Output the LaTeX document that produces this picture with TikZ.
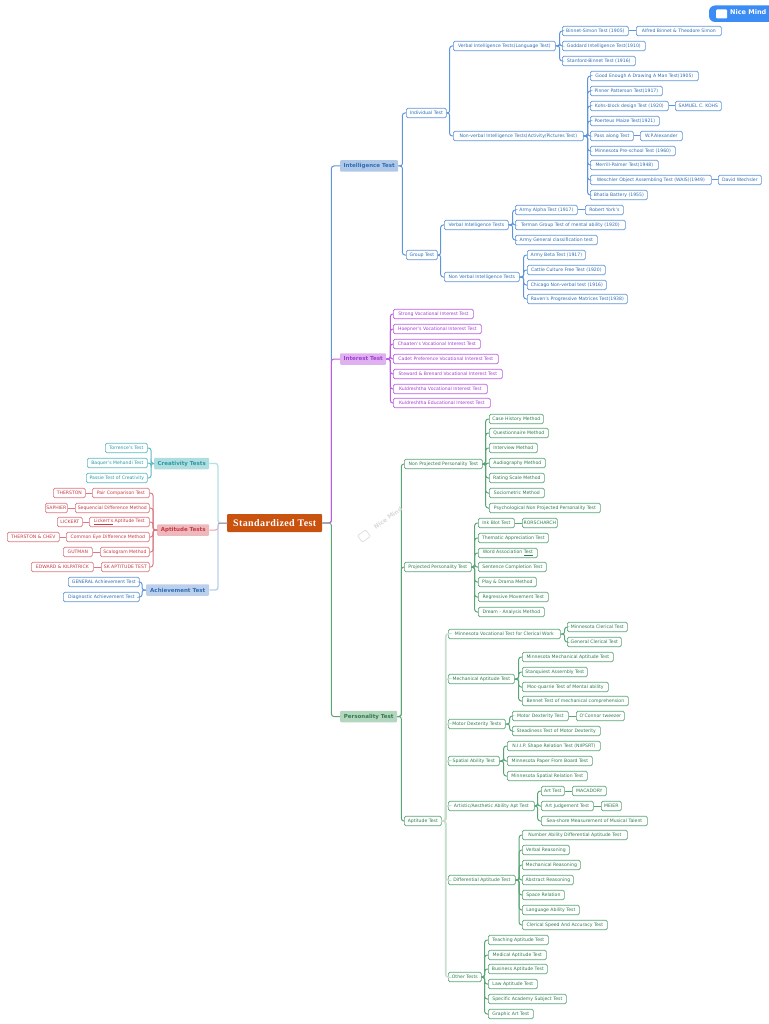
\documentclass[tikz,border=0pt]{standalone}
\usepackage{fontspec}
\setmainfont{DejaVu Sans}
\newfontfamily\rootfont[LetterSpace=4]{Liberation Serif}
\usetikzlibrary{calc}
\definecolor{treeblue}{HTML}{5F95DA}
\definecolor{inkblue}{HTML}{2F6DB5}
\definecolor{fillblue}{HTML}{AFC8E8}
\definecolor{treepurple}{HTML}{BE5CE2}
\definecolor{inkpurple}{HTML}{A63CD6}
\definecolor{fillpurple}{HTML}{DDB2EE}
\definecolor{treegreen}{HTML}{5AA576}
\definecolor{inkgreen}{HTML}{2E7D4F}
\definecolor{fillgreen}{HTML}{B5D6BE}
\definecolor{paleteal}{HTML}{B4E0E2}
\definecolor{treeteal}{HTML}{5FB9C2}
\definecolor{inkteal}{HTML}{2A9AA5}
\definecolor{fillteal}{HTML}{B0DDE0}
\definecolor{treered}{HTML}{DB7880}
\definecolor{inkred}{HTML}{C83A45}
\definecolor{fillred}{HTML}{EDB9BD}
\definecolor{paleblue}{HTML}{BCD0EC}
\definecolor{rootfill}{HTML}{C9520F}
\definecolor{logoblue}{HTML}{3C8CF5}
\tikzset{
	leafbox/.style={draw,rounded corners=1.5pt,fill=white,inner sep=0pt,minimum height=9.5pt,anchor=west,line width=0.7pt,font=\fontsize{4.6}{5}\selectfont},
	bluebox/.style={leafbox,draw=treeblue,text=inkblue},
	purplebox/.style={leafbox,draw=treepurple,text=inkpurple},
	greenbox/.style={leafbox,draw=treegreen,text=inkgreen},
	tealbox/.style={leafbox,draw=treeteal,text=inkteal},
	redbox/.style={leafbox,draw=treered,text=inkred},
	mainbox/.style={rounded corners=1pt,inner sep=0pt,minimum height=11.5pt,anchor=west,font=\fontsize{5.5}{6}\selectfont\bfseries},
	link/.style={rounded corners=2.5pt,line width=1pt},
	bluelink/.style={link,draw=treeblue},
	purplelink/.style={link,draw=treepurple},
	greenlink/.style={link,draw=treegreen},
	teallink/.style={link,draw=treeteal},
	redlink/.style={link,draw=treered},
}
% box from its left edge, right edge and middle height
\def\boxat[#1](#2)(#3:#4:#5)#6{\node[#1,minimum width=#4pt-#3pt] (#2) at (#3,#5) {#6};}
\begin{document}
\begin{tikzpicture}[x=1pt,y=-1pt]
	\useasboundingbox (0,0) rectangle (768,1024);
	%%%%% ROOT AND BRANCHES %%%%%
	\boxat[mainbox,fill=rootfill,text=white,minimum height=18pt,font=\rootfont\fontsize{10}{12}\selectfont\bfseries](root)(227:322:523){Standardized Test}
	\boxat[mainbox,fill=fillblue,text=inkblue](intel)(340:398:166){Intelligence Test}
	\boxat[mainbox,fill=fillpurple,text=inkpurple](inter)(340:386:359){Interest Test}
	\boxat[mainbox,fill=fillgreen,text=inkgreen](perso)(340:397:716.5){Personality Test}
	\boxat[mainbox,fill=fillteal,text=inkteal](creat)(154:209:463.5){Creativity Tests}
	\boxat[mainbox,fill=fillred,text=inkred](aptit)(157:209:530){Aptitude Tests}
	\boxat[mainbox,fill=paleblue,text=inkblue](achie)(146:209:590){Achievement Test}
	%%%%% INTELLIGENCE %%%%%
	\boxat[bluebox](indiv)(406:446:113){Individual Test}
	\boxat[bluebox](group)(406:437:255){Group Test}
	\boxat[bluebox](verb)(453:555:46){Verbal Intelligence Tests(Language Test)}
	\boxat[bluebox](nonverb)(453:583:136){Non-verbal Intelligence Tests(Activity/Pictures Test)}
	\boxat[bluebox](binet)(562:628:31){Binnet-Simon Test (1905)}
	\boxat[bluebox](alfred)(636:721:31){Alfred Binnet \& Theodore Simon}
	\boxat[bluebox](goddard)(562:645:46){Goddard Intelligence Test(1910)}
	\boxat[bluebox](stanford)(562:635:61){Stanford-Binnet Test (1916)}
	\boxat[bluebox](good)(590:698:76){Good Enough A Drawing A Man Test(1905)}
	\boxat[bluebox](pinner)(590:662:91){Pinner Patterson Test(1917)}
	\boxat[bluebox](kohs)(590:668:106){Kohs-block design Test (1920)}
	\boxat[bluebox](samuel)(675:721:106){SAMUEL C. KOHS}
	\boxat[bluebox](porteus)(590:659:121){Poerteus Maize Test(1921)}
	\boxat[bluebox](pass)(590:633:136){Pass along Test}
	\boxat[bluebox](alex)(640:682:136){W.P.Alexander}
	\boxat[bluebox](preschool)(590:675:151){Minnesota Pre-school Test (1960)}
	\boxat[bluebox](merrill)(590:658:165){Merrill-Palmer Test(1948)}
	\boxat[bluebox](wais)(590:711:180){Weschler Object Assembling Test (WAIS)(1949)}
	\boxat[bluebox](david)(718:761:180){David Wechsler}
	\boxat[bluebox](bhatia)(590:647:195){Bhatia Battery (1955)}
	\boxat[bluebox](gverb)(444:508:225){Verbal Intelligence Tests}
	\boxat[bluebox](gnon)(444:519:277){Non Verbal Intelligence Tests}
	\boxat[bluebox](alpha)(515:577:210){Army Alpha Test (1917)}
	\boxat[bluebox](york)(585:623:210){Robert York's}
	\boxat[bluebox](terman)(515:625:225){Terman Group Test of mental ability (1920)}
	\boxat[bluebox](armyg)(515:597:240){Army General classification test}
	\boxat[bluebox](beta)(527:585:255){Army Beta Test (1917)}
	\boxat[bluebox](cattle)(527:605:270){Cattle Culture Free Test (1920)}
	\boxat[bluebox](chicago)(527:606:285){Chicago Non-verbal test (1916)}
	\boxat[bluebox](raven)(527:627:299){Raven's Progressive Matrices Test(1938)}
	%%%%% INTEREST %%%%%
	\boxat[purplebox](strong)(393:473:314){Strong Vocational Interest Test}
	\boxat[purplebox](hoep)(393:481:329){Hoepner's Vocational Interest Test}
	\boxat[purplebox](chaat)(393:480:344){Chaaten's Vocational Interest Test}
	\boxat[purplebox](cadet)(393:498:359){Cadet Preference Vocational Interest Test}
	\boxat[purplebox](stew)(393:502:374){Steward \& Brenard Vocational Interest Test}
	\boxat[purplebox](kulv)(393:487:389){Kuldreshtha Vocational Interest Test}
	\boxat[purplebox](kule)(393:490:403){Kuldreshtha Educational Interest Test}
	%%%%% PERSONALITY %%%%%
	\boxat[greenbox](nonproj)(404:482:464){Non Projected Personality Test}
	\boxat[greenbox](proj)(404:471:567){Projected Personality Test}
	\boxat[greenbox](apt)(404:441:821){Aptitude Test}
	\boxat[greenbox](case)(489:543:419){Case History Method}
	\boxat[greenbox](quest)(489:548:433){Questionnaire Method}
	\boxat[greenbox](interv)(489:537:448){Interview Method}
	\boxat[greenbox](audio)(489:545:463){Audiography Method}
	\boxat[greenbox](rating)(489:544:478){Rating Scale Method}
	\boxat[greenbox](socio)(489:544:493){Sociometric Method}
	\boxat[greenbox](psych)(489:600:508){Psychological Non Projected Personality Test}
	\boxat[greenbox](ink)(478:514:523){Ink Blot Test}
	\boxat[greenbox](rors)(522:557:523){RORSCHARCH}
	\boxat[greenbox](them)(478:548:538){Thematic Appreciation Test}
	\boxat[greenbox](word)(478:537:553){Word Association \underline{Test}}
	\boxat[greenbox](sent)(478:546:567){Sentence Completion Test}
	\boxat[greenbox](play)(478:536:582){Play \& Drama Method}
	\boxat[greenbox](regr)(478:548:597){Regressive Movement Test}
	\boxat[greenbox](dream)(478:544:612){Dream - Analysis Method}
	\boxat[greenbox](voc)(448:560:634){Minnesota Vocational Test for Clerical Work}
	\boxat[greenbox](mech)(448:514:679){Mechanical Aptitude Test}
	\boxat[greenbox](motor)(448:505:724){Motor Dexterity Tests}
	\boxat[greenbox](spat)(448:499:761){Spatial Ability Test}
	\boxat[greenbox](art)(448:534:806){Artistic/Aesthetic Ability Apt Test}
	\boxat[greenbox](diff)(448:515:880){Differential Aptitude Test}
	\boxat[greenbox](other)(448:481:977){Other Tests}
	\boxat[greenbox](mclr)(567:627:627){Minnesota Clerical Test}
	\boxat[greenbox](gclr)(567:621:642){General Clerical Test}
	\boxat[greenbox](mmech)(522:613:657){Minnesota Mechanical Aptitude Test}
	\boxat[greenbox](stanq)(522:587:672){Stanquiest Assembly Test}
	\boxat[greenbox](mocq)(522:608:687){Moc-quarrie Test of Mental ability}
	\boxat[greenbox](benn)(522:628:701){Bennet Test of mechanical comprehension}
	\boxat[greenbox](mdex)(512:568:716){Motor Dexterity Test}
	\boxat[greenbox](oconn)(576:624:716){O'Connor tweezer}
	\boxat[greenbox](stead)(512:600:731){Steadiness Test of Motor Dexterity}
	\boxat[greenbox](niip)(507:600:746){N.I.I.P. Shape Relation Test (NIIPSRT)}
	\boxat[greenbox](paper)(507:592:761){Minnesota Paper From Board Test}
	\boxat[greenbox](mspat)(507:587:776){Minnesota Spatial Relation Test}
	\boxat[greenbox](artt)(541:564:791){Art Test}
	\boxat[greenbox](maca)(572:606:791){MACADORY}
	\boxat[greenbox](artj)(541:593:806){Art Judgement Test}
	\boxat[greenbox](meier)(601:621:806){MEIER}
	\boxat[greenbox](sea)(541:647:821){Sea-shore Measurement of Musical Talent}
	\boxat[greenbox](numb)(522:627:835){Number Ability Differential Aptitude Test}
	\boxat[greenbox](vreas)(522:569:850){Verbal Reasoning}
	\boxat[greenbox](mreas)(522:580:865){Mechanical Reasoning}
	\boxat[greenbox](areas)(522:573:880){Abstract Reasoning}
	\boxat[greenbox](space)(522:564:895){Space Relation}
	\boxat[greenbox](lang)(522:579:910){Language Ability Test}
	\boxat[greenbox](cler)(522:607:925){Clerical Speed And Accuracy Test}
	\boxat[greenbox](teach)(488:548:940){Teaching Aptitude Test}
	\boxat[greenbox](medic)(488:546:955){Medical Aptitude Test}
	\boxat[greenbox](busin)(488:547:969){Business Aptitude Test}
	\boxat[greenbox](law)(488:537:984){Law Aptitude Test}
	\boxat[greenbox](spec)(488:566:999){Specific Academy Subject Test}
	\boxat[greenbox](graph)(488:533:1014){Graphic Art Test}
	%%%%% LEFT SIDE %%%%%
	\boxat[tealbox](torr)(105:147:448){Torrence's Test}
	\boxat[tealbox](baq)(87:147:463){Baquer's Mehandi Test}
	\boxat[tealbox](passi)(86:147:478){Passie Test of Creativity}
	\boxat[redbox](pair)(92:149:493){Pair Comparison Test}
	\boxat[redbox](therst)(53:85:493){THERSTON}
	\boxat[redbox](seqd)(75:149:508){Sequencial Difference Method}
	\boxat[redbox](saph)(45:67:508){SAPHIER}
	\boxat[redbox](lick)(89:149:522){\underline{Lickert's} Aptitude Test}
	\boxat[redbox](licker)(57:82:522){LICKERT}
	\boxat[redbox](comm)(66:149:537){Common Eye Difference Method}
	\boxat[redbox](chev)(7:59:537){THERSTON \& CHEV}
	\boxat[redbox](scal)(100:149:552){Scalogram Method}
	\boxat[redbox](gutm)(63:92:552){GUTMAN}
	\boxat[redbox](skap)(101:149:567){SK APTITUDE TEST}
	\boxat[redbox](edw)(31:93:567){EDWARD \& KILPATRICK}
	\boxat[bluebox](gach)(68:139:582){GENERAL Achievement Test}
	\boxat[bluebox](dach)(63:139:597){Diagnostic Achievement Test}
	%%%%% CONNECTORS %%%%%
	\draw[bluelink] (root.east) -- ++(9,0) |- (intel.west);
	\draw[purplelink] (root.east) -- ++(9,0) |- (inter.west);
	\draw[greenlink] (root.east) -- ++(9,0) |- (perso.west);
	\draw[link,draw=gray!70] (root.east) -- ++(9,0);
	\draw[link,draw=paleteal,line width=1.3pt] (root.west) -- ++(-9,0) |- (creat.east);
	\draw[link,draw=treered!70] (root.west) -- ++(-9,0) |- (aptit.east);
	\draw[link,draw=paleblue,line width=1.3pt] (root.west) -- ++(-9,0) |- (achie.east);
	\draw[link,draw=gray!70] (root.west) -- ++(-9,0);
	\foreach \kid in {indiv,group} \draw[bluelink] (intel.east) -- ++(4,0) |- (\kid.west);
	\foreach \kid in {verb,nonverb} \draw[bluelink] (indiv.east) -- ++(3,0) |- (\kid.west);
	\foreach \kid in {binet,goddard,stanford} \draw[bluelink] (verb.east) -- ++(4,0) |- (\kid.west);
	\foreach \kid in {good,pinner,kohs,porteus,pass,preschool,merrill,wais,bhatia} \draw[bluelink] (nonverb.east) -- ++(4,0) |- (\kid.west);
	\foreach \kid in {gverb,gnon} \draw[bluelink] (group.east) -- ++(3,0) |- (\kid.west);
	\foreach \kid in {alpha,terman,armyg} \draw[bluelink] (gverb.east) -- ++(4,0) |- (\kid.west);
	\foreach \kid in {beta,cattle,chicago,raven} \draw[bluelink] (gnon.east) -- ++(4,0) |- (\kid.west);
	\draw[bluelink] (binet) -- (alfred);
	\draw[bluelink] (kohs) -- (samuel);
	\draw[bluelink] (pass) -- (alex);
	\draw[bluelink] (wais) -- (david);
	\draw[bluelink] (alpha) -- (york);
	\foreach \kid in {strong,hoep,chaat,cadet,stew,kulv,kule} \draw[purplelink] (inter.east) -- ++(4,0) |- (\kid.west);
	\foreach \kid in {nonproj,proj,apt} \draw[greenlink] (perso.east) -- ++(4,0) |- (\kid.west);
	\foreach \kid in {case,quest,interv,audio,rating,socio,psych} \draw[greenlink] (nonproj.east) -- ++(3,0) |- (\kid.west);
	\foreach \kid in {ink,them,word,sent,play,regr,dream} \draw[greenlink] (proj.east) -- ++(3,0) |- (\kid.west);
	\foreach \kid in {voc,mech,motor,spat,art,diff,other} \draw[link,draw=fillgreen!75,line width=1.6pt] (apt.east) -- ++(4,0) |- (\kid.west);
	\foreach \kid in {mclr,gclr} \draw[greenlink] (voc.east) -- ++(4,0) |- (\kid.west);
	\foreach \kid in {mmech,stanq,mocq,benn} \draw[greenlink] (mech.east) -- ++(4,0) |- (\kid.west);
	\foreach \kid in {mdex,stead} \draw[greenlink] (motor.east) -- ++(4,0) |- (\kid.west);
	\foreach \kid in {niip,paper,mspat} \draw[greenlink] (spat.east) -- ++(4,0) |- (\kid.west);
	\foreach \kid in {artt,artj,sea} \draw[greenlink] (art.east) -- ++(3,0) |- (\kid.west);
	\foreach \kid in {numb,vreas,mreas,areas,space,lang,cler} \draw[greenlink] (diff.east) -- ++(3.5,0) |- (\kid.west);
	\foreach \kid in {teach,medic,busin,law,spec,graph} \draw[greenlink] (other.east) -- ++(3,0) |- (\kid.west);
	\draw[greenlink] (ink) -- (rors);
	\draw[greenlink] (mdex) -- (oconn);
	\draw[greenlink] (artt) -- (maca);
	\draw[greenlink] (artj) -- (meier);
	\foreach \kid in {torr,baq,passi} \draw[teallink] (creat.west) -- ++(-3,0) |- (\kid.east);
	\foreach \kid in {pair,seqd,lick,comm,scal,skap} \draw[redlink] (aptit.west) -- ++(-4,0) |- (\kid.east);
	\foreach \kid in {gach,dach} \draw[bluelink] (achie.west) -- ++(-4,0) |- (\kid.east);
	\draw[redlink] (pair) -- (therst);
	\draw[redlink] (seqd) -- (saph);
	\draw[redlink] (lick) -- (licker);
	\draw[redlink] (comm) -- (chev);
	\draw[redlink] (scal) -- (gutm);
	\draw[redlink] (skap) -- (edw);
	%%%%% LOGO AND WATERMARK %%%%%
	\fill[logoblue,rounded corners=6pt] (709,5.5) -- (780,5.5) -- (780,22) -- (709,22) -- cycle;
	\fill[white,rounded corners=1pt] (716,9.5) rectangle (727,18.5);
	\node[anchor=west,inner sep=0pt,text=white,font=\fontsize{6.5}{7}\selectfont\bfseries] (logo) at (730,12) {Nice Mind};
	\node[rotate=36,inner sep=0pt,text=gray!30,font=\fontsize{6}{7}\selectfont\bfseries] (mark) at (388,518) {Nice Mind};
	\node[draw=gray!25,line width=0.8pt,rotate=36,rounded corners=1pt,minimum width=10pt,minimum height=8pt,inner sep=0pt] (markicon) at (364,536) {};
\end{tikzpicture}
\end{document}
